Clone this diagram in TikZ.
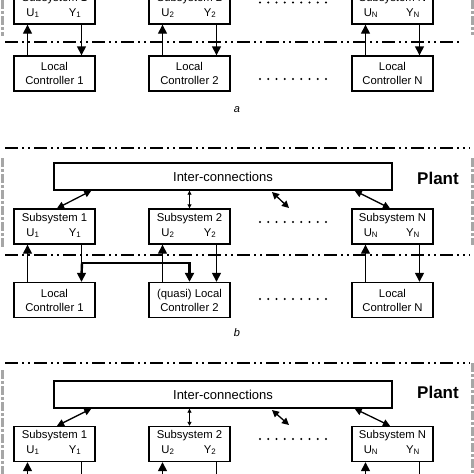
\documentclass[tikz,border=0pt]{standalone}
\usepackage{fontspec}
\setmainfont{Liberation Sans}
\usetikzlibrary{arrows.meta}
\begin{document}
\begin{tikzpicture}[x=1pt,y=-1pt,
 box/.style={draw, line width=1.4pt, minimum width=81pt, minimum height=35pt, inner sep=0pt},
 icbox/.style={draw, line width=1.4pt, minimum width=338pt, minimum height=27pt, inner sep=0pt, font=\fontsize{13}{15}\selectfont},
 lbl/.style={font=\fontsize{11.3}{14}\selectfont, inner sep=0pt, align=center},
 sig/.style={line width=1.4pt, -{Triangle[length=9pt,width=9pt]}},
 thicksig/.style={line width=2.4pt, -{Triangle[length=9pt,width=9pt]}},
 link/.style={line width=1.3pt, {Triangle[length=7pt,width=7pt]}-{Triangle[length=7pt,width=7pt]}},
 smalllink/.style={line width=0.9pt, {Triangle[length=4pt,width=4pt]}-{Triangle[length=4pt,width=4pt]}},
 bound/.style={line width=2pt, dash pattern=on 13pt off 4pt on 2pt off 4pt on 2pt off 4pt},
 side/.style={line width=3pt, color=black!35, dash pattern=on 9pt off 2pt on 3pt off 2pt},
 plantlbl/.style={font=\fontsize{17}{19}\selectfont\bfseries, inner sep=0pt},
 panel/.style={font=\fontsize{11}{13}\selectfont\itshape, inner sep=0pt},
]
\useasboundingbox (0,0) rectangle (474,474);
\clip (0,0) rectangle (474,474);

% ================= panel a =================
\draw[side] (2,0) -- (2,36);
\draw[side] (472,0) -- (472,35);
\draw[bound] (5,42) -- (462,42);
\node[box] (s1a) at (54.5,6.5) {};
\node[box] (s2a) at (189.5,6.5) {};
\node[box] (sNa) at (392.5,6.5) {};
\node[lbl] (t1a) at (54.5,-1) {Subsystem 1};
\node[lbl] (t2a) at (189.5,-1) {Subsystem 2};
\node[lbl] (tNa) at (392.5,-1) {Subsystem N};
\node[lbl] (u1a) at (33,13) {U\textsubscript{1}};
\node[lbl] (y1a) at (75,13) {Y\textsubscript{1}};
\node[lbl] (u2a) at (168,13) {U\textsubscript{2}};
\node[lbl] (y2a) at (210,13) {Y\textsubscript{2}};
\node[lbl] (uNa) at (371,13) {U\textsubscript{N}};
\node[lbl] (yNa) at (413,13) {Y\textsubscript{N}};
\node[box,lbl] (c1a) at (54.5,73.5) {Local\\Controller 1};
\node[box,lbl] (c2a) at (189.5,73.5) {Local\\Controller 2};
\node[box,lbl] (cNa) at (392.5,73.5) {Local\\Controller N};
\foreach \s/\c in {s1a/c1a,s2a/c2a,sNa/cNa}{
  \draw[sig] ([xshift=-27pt]\c.north) -- ([xshift=-27pt]\s.south);
  \draw[sig] ([xshift=27pt]\s.south) -- ([xshift=27pt]\c.north);
}
\foreach \i in {0,...,8}{
  \fill (260+\i*8.25,2.5) circle (1.2pt);
  \fill (260+\i*8.25,79) circle (1.2pt);
}
\node[panel] (pa) at (237,110) {a};

% ================= panel b =================
\draw[bound] (5,148) -- (470,148);
\draw[bound] (5,255) -- (470,255);
\draw[side] (2,158) -- (2,248);
\draw[side] (472,158) -- (472,245);
\node[icbox] (icb) at (223,176.5) {Inter-connections};
\node[plantlbl] (plb) at (438,178) {Plant};
\node[box] (s1b) at (54.5,226.5) {};
\node[box] (s2b) at (189.5,226.5) {};
\node[box] (sNb) at (392.5,226.5) {};
\node[lbl] (t1b) at (54.5,219) {Subsystem 1};
\node[lbl] (t2b) at (189.5,219) {Subsystem 2};
\node[lbl] (tNb) at (392.5,219) {Subsystem N};
\node[lbl] (u1b) at (33,233) {U\textsubscript{1}};
\node[lbl] (y1b) at (75,233) {Y\textsubscript{1}};
\node[lbl] (u2b) at (168,233) {U\textsubscript{2}};
\node[lbl] (y2b) at (210,233) {Y\textsubscript{2}};
\node[lbl] (uNb) at (371,233) {U\textsubscript{N}};
\node[lbl] (yNb) at (413,233) {Y\textsubscript{N}};
\node[box,lbl] (c1b) at (54.5,300) {Local\\Controller 1};
\node[box,lbl] (c2b) at (189.5,300) {(quasi) Local\\Controller 2};
\node[box,lbl] (cNb) at (392.5,300) {Local\\Controller N};
\foreach \s/\c in {s1b/c1b,s2b/c2b,sNb/cNb}{
  \draw[sig] ([xshift=-27pt]\c.north) -- ([xshift=-27pt]\s.south);
  \draw[sig] ([xshift=27pt]\s.south) -- ([xshift=27pt]\c.north);
}
\coordinate (jb) at (82,263);
\draw[thicksig] (jb) -- (jb -| c2b.north) -- (c2b.north);
\draw[line width=2.4pt] (jb) -- ([xshift=27pt]c1b.north |- 0,276);
\draw[link] ([xshift=2.5pt]s1b.north) -- ([xshift=38pt]icb.south west);
\draw[smalllink] (s2b.north) -- (s2b.north |- icb.south);
\draw[link] ([xshift=-38pt]icb.south east) -- ([xshift=-2.5pt]sNb.north);
\coordinate (fb1) at (272,192);
\coordinate (fb2) at (289,208);
\draw[link] (fb1) -- (fb2);
\foreach \i in {0,...,8}{
  \fill (260+\i*8.25,222) circle (1.2pt);
  \fill (260+\i*8.25,299) circle (1.2pt);
}
\node[panel] (pb) at (237,333) {b};

% ================= panel c =================
\draw[bound] (5,363) -- (470,363);
\draw[side] (2,370) -- (2,474);
\draw[side] (472,363) -- (472,474);
\node[icbox] (icc) at (223,394.5) {Inter-connections};
\node[plantlbl] (plc) at (438,392) {Plant};
\node[box] (s1c) at (54.5,444) {};
\node[box] (s2c) at (189.5,444) {};
\node[box] (sNc) at (392.5,444) {};
\node[lbl] (t1c) at (54.5,436) {Subsystem 1};
\node[lbl] (t2c) at (189.5,436) {Subsystem 2};
\node[lbl] (tNc) at (392.5,436) {Subsystem N};
\node[lbl] (u1c) at (33,450) {U\textsubscript{1}};
\node[lbl] (y1c) at (75,450) {Y\textsubscript{1}};
\node[lbl] (u2c) at (168,450) {U\textsubscript{2}};
\node[lbl] (y2c) at (210,450) {Y\textsubscript{2}};
\node[lbl] (uNc) at (371,450) {U\textsubscript{N}};
\node[lbl] (yNc) at (413,450) {Y\textsubscript{N}};
\foreach \s in {s1c,s2c,sNc}{
  \coordinate (\s u) at ([xshift=-27pt]\s.south |- 0,490);
  \coordinate (\s y) at ([xshift=27pt]\s.south |- 0,490);
  \draw[sig] (\s u) -- ([xshift=-27pt]\s.south);
  \draw[line width=1.4pt] ([xshift=27pt]\s.south) -- (\s y);
}
\draw[link] ([xshift=2.5pt]s1c.north) -- ([xshift=38pt]icc.south west);
\draw[smalllink] (s2c.north) -- (s2c.north |- icc.south);
\draw[link] ([xshift=-38pt]icc.south east) -- ([xshift=-2.5pt]sNc.north);
\coordinate (fc1) at (272,410);
\coordinate (fc2) at (289,425);
\draw[link] (fc1) -- (fc2);
\foreach \i in {0,...,8}{
  \fill (260+\i*8.25,439) circle (1.2pt);
}
\end{tikzpicture}
\end{document}
